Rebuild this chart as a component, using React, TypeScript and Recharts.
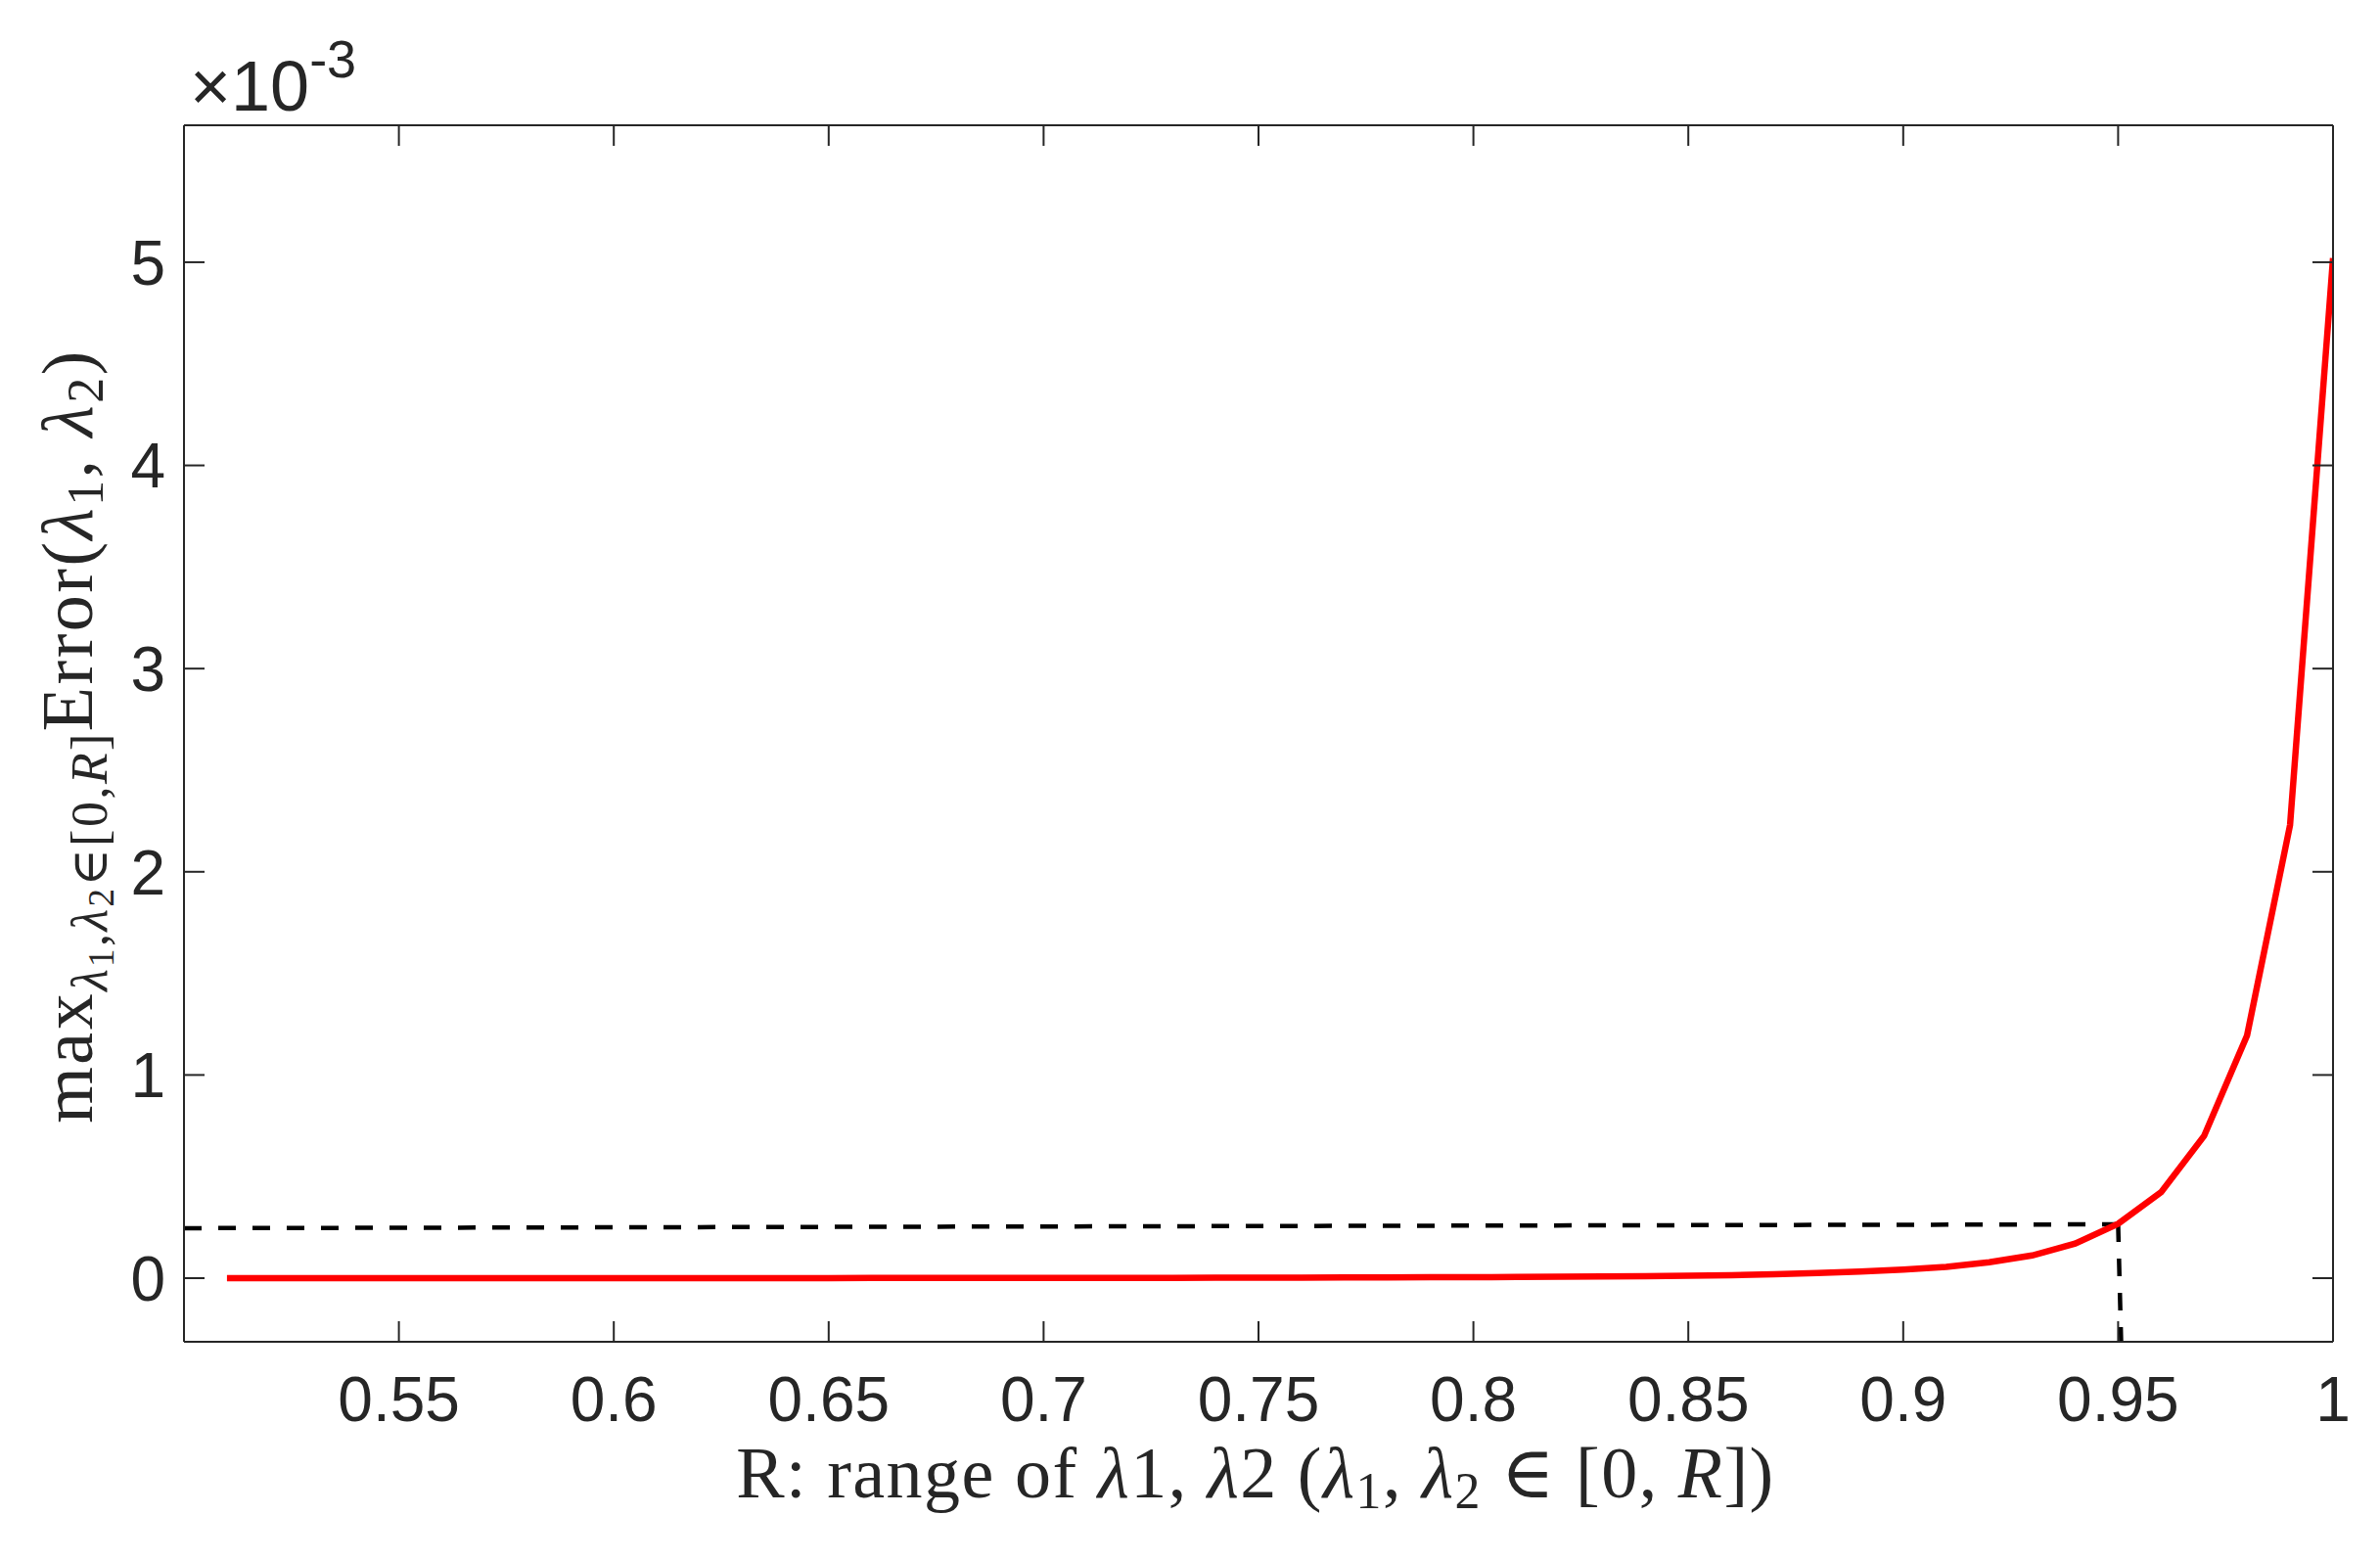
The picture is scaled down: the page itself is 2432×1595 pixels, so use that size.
import React from 'react';
import { LineChart, Line, XAxis, YAxis } from 'recharts';

// R values (x)
const rValues = [
  0.51, 0.52, 0.53, 0.54, 0.55, 0.56, 0.57, 0.58, 0.59, 0.6,
  0.61, 0.62, 0.63, 0.64, 0.65, 0.66, 0.67, 0.68, 0.69, 0.7,
  0.71, 0.72, 0.73, 0.74, 0.75, 0.76, 0.77, 0.78, 0.79, 0.8,
  0.81, 0.82, 0.83, 0.84, 0.85, 0.86, 0.87, 0.88, 0.89, 0.9,
  0.91, 0.92, 0.93, 0.94, 0.95, 0.96, 0.97, 0.98, 0.99, 1.0,
];
// max error, in units of 1e-3
const errValues = [
  0.0, 0.0, 0.0001, 0.0001, 0.0001, 0.0001, 0.0002, 0.0002, 0.0002, 0.0003,
  0.0003, 0.0004, 0.0005, 0.0005, 0.0006, 0.0007, 0.0008, 0.0009, 0.0011, 0.0012,
  0.0014, 0.0016, 0.0018, 0.0021, 0.0024, 0.0028, 0.0032, 0.0037, 0.0043, 0.005,
  0.006, 0.007, 0.008, 0.01, 0.012, 0.015, 0.019, 0.025, 0.032, 0.042,
  0.056, 0.078, 0.112, 0.17, 0.268, 0.423, 0.7, 1.195, 2.23, 5.02,
];
// dashed guide lines
const guideH = [
  { r: 0.5, e: 0.246 },
  { r: 0.95, e: 0.265 },
];
const guideV = [
  { r: 0.95, e: 0.265 },
  { r: 0.9507, e: -0.313 },
];
const xTicks = [0.55, 0.6, 0.65, 0.7, 0.75, 0.8, 0.85, 0.9, 0.95, 1];
const yTicks = [0, 1, 2, 3, 4, 5];
const xDomain = [0.5, 1];
const yDomain = [-0.313, 5.674];

const data = rValues.map((r, i) => ({ r, e: errValues[i] }));

const AX = '#262626';
const tickFont = { fontFamily: '"Liberation Sans", Arial, sans-serif', fontSize: 64, fill: AX };
const SERIF = '"Liberation Serif", "DejaVu Serif", serif';

type Seg = { t: string; s?: number; y?: number; i?: boolean };

function renderSegs(segs: Seg[], base: number) {
  let prev = 0;
  return segs.map((g, k) => {
    const y = g.y ?? 0;
    const dy = (y - prev) * base;
    prev = y;
    return (
      <tspan
        key={k}
        dy={dy}
        fontSize={(g.s ?? 1) * base}
        fontStyle={g.i ? 'italic' : 'normal'}
      >
        {g.t}
      </tspan>
    );
  });
}

const ySegs: Seg[] = [
  { t: 'max' },
  { t: 'λ', s: 0.7, y: 0.2, i: true },
  { t: '1', s: 0.5, y: 0.3 },
  { t: ',', s: 0.7, y: 0.2 },
  { t: 'λ', s: 0.7, y: 0.2, i: true },
  { t: '2', s: 0.5, y: 0.3 },
  { t: '∈[0,', s: 0.7, y: 0.2 },
  { t: 'R', s: 0.7, y: 0.2, i: true },
  { t: ']', s: 0.7, y: 0.2 },
  { t: 'Error(' },
  { t: 'λ', i: true },
  { t: '1', s: 0.7, y: 0.15 },
  { t: ', ' },
  { t: 'λ', i: true },
  { t: '2', s: 0.7, y: 0.15 },
  { t: ')' },
];

const xSegs: Seg[] = [
  { t: 'R: range of ' },
  { t: 'λ', i: true },
  { t: '1, ' },
  { t: 'λ', i: true },
  { t: '2 (' },
  { t: 'λ', i: true },
  { t: '1', s: 0.7, y: 0.15 },
  { t: ', ' },
  { t: 'λ', i: true },
  { t: '2', s: 0.7, y: 0.15 },
  { t: ' ∈ [0, ' },
  { t: 'R', i: true },
  { t: '])' },
];

export default function App() {
  return (
    <div style={{ position: 'absolute', left: 0, top: 0, width: 2432, height: 1595, background: '#fff' }}>
      <LineChart
        width={2432}
        height={1595}
        data={data}
        margin={{ top: 127, right: 47, bottom: 0, left: 0 }}
      >
        <XAxis
          xAxisId="bottom"
          dataKey="r"
          type="number"
          domain={xDomain}
          ticks={xTicks}
          allowDataOverflow
          height={224}
          tickSize={-21}
          tickMargin={57}
          stroke={AX}
          strokeWidth={2}
          tick={tickFont}
        />
        <XAxis
          xAxisId="top"
          orientation="top"
          dataKey="r"
          type="number"
          domain={xDomain}
          ticks={xTicks}
          allowDataOverflow
          height={1}
          tickSize={-21}
          stroke={AX}
          strokeWidth={2}
          tickFormatter={() => ''}
        />
        <YAxis
          yAxisId="left"
          type="number"
          domain={yDomain}
          ticks={yTicks}
          allowDataOverflow
          width={188}
          tickSize={-21}
          tickMargin={40}
          stroke={AX}
          strokeWidth={2}
          tick={tickFont}
        />
        <YAxis
          yAxisId="right"
          orientation="right"
          type="number"
          domain={yDomain}
          ticks={yTicks}
          allowDataOverflow
          width={1}
          tickSize={-21}
          stroke={AX}
          strokeWidth={2}
          tickFormatter={() => ''}
        />
        <Line
          xAxisId="bottom"
          yAxisId="left"
          data={guideH}
          dataKey="e"
          stroke="#000"
          strokeWidth={4.5}
          strokeDasharray="18 17"
          dot={false}
          isAnimationActive={false}
        />
        <Line
          xAxisId="bottom"
          yAxisId="left"
          data={guideV}
          dataKey="e"
          stroke="#000"
          strokeWidth={4.5}
          strokeDasharray="18 17"
          dot={false}
          isAnimationActive={false}
        />
        <Line
          xAxisId="bottom"
          yAxisId="left"
          dataKey="e"
          stroke="#ff0000"
          strokeWidth={6.5}
          dot={false}
          isAnimationActive={false}
        />
      </LineChart>
      <svg
        width={2432}
        height={1595}
        style={{ position: 'absolute', left: 0, top: 0, pointerEvents: 'none' }}
      >
        <text x={194} y={113} fill={AX} fontFamily='"Liberation Sans", Arial, sans-serif'>
          <tspan fontSize={72}>×10</tspan>
          <tspan fontSize={54} dy={-34}>-3</tspan>
        </text>
        <text
          transform="translate(94,752) rotate(-90)"
          textAnchor="middle"
          fill={AX}
          fontFamily={SERIF}
          letterSpacing={2.5}
        >
          {renderSegs(ySegs, 74)}
        </text>
        <text
          x={1283}
          y={1530}
          textAnchor="middle"
          fill={AX}
          fontFamily={SERIF}
          letterSpacing={1.5}
        >
          {renderSegs(xSegs, 74)}
        </text>
      </svg>
    </div>
  );
}
